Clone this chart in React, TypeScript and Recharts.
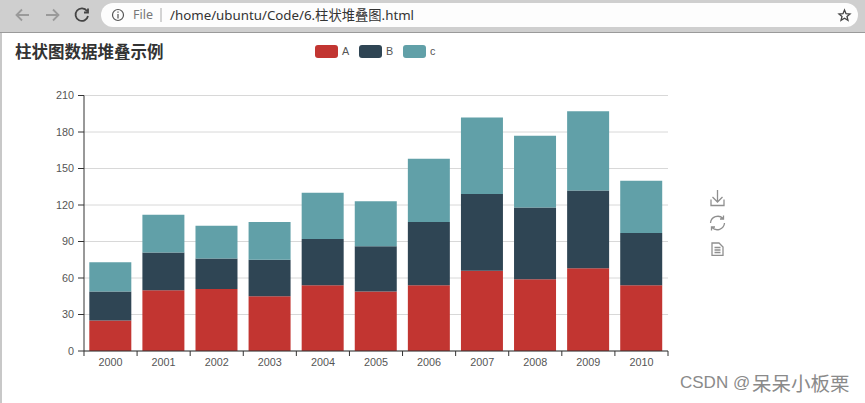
import React from 'react';
import { BarChart, Bar, XAxis, YAxis, CartesianGrid, Legend } from 'recharts';

const years = ['2000', '2001', '2002', '2003', '2004', '2005', '2006', '2007', '2008', '2009', '2010'];
const seriesA = [25, 50, 51, 45, 54, 49, 54, 66, 59, 68, 54];
const seriesB = [24, 31, 25, 30, 38, 37, 52, 63, 59, 64, 43];
const seriesC = [24, 31, 27, 31, 38, 37, 52, 63, 59, 65, 43];
const yTicks = [0, 30, 60, 90, 120, 150, 180, 210];

const RED = '#c23531';
const NAVY = '#2f4554';
const TEAL = '#61a0a8';
const FONT = '"Liberation Sans", Arial, sans-serif';
const BAND = 53.1;

const data = years.map((year, i) => ({ year, A: seriesA[i], B: seriesB[i], c: seriesC[i] }));

const YearTick = ({ x, y, payload, index }: any) => (
  <g>
    <line x1={x - BAND / 2} x2={x - BAND / 2} y1={y - 8} y2={y - 3} stroke="#333" />
    {index === years.length - 1 && <line x1={x + BAND / 2} x2={x + BAND / 2} y1={y - 8} y2={y - 3} stroke="#333" />}
    <text x={x} y={y + 7} textAnchor="middle" fontSize={10.8} fill="#555" fontFamily={FONT}>{payload.value}</text>
  </g>
);

const LegendRow = ({ payload }: any) => (
  <div style={{ display: 'flex', fontFamily: FONT, fontSize: 10.8, color: '#555' }}>
    {payload.map((p: any) => (
      <div key={p.value} style={{ display: 'flex', alignItems: 'center', width: 44 }}>
        <span style={{ width: 23, height: 13, borderRadius: 3, background: p.color, marginRight: 4 }} />
        <span style={{ marginTop: -2 }}>{p.value}</span>
      </div>
    ))}
  </div>
);

const BrowserBar = () => (
  <div style={{ position: 'absolute', left: 0, top: 0, width: 865, height: 33, background: '#cfcfcf', borderBottom: '1px solid #9a9a9a', boxSizing: 'border-box' }}>
    <div style={{ position: 'absolute', left: 101, top: 3, width: 757, height: 24, borderRadius: 12, background: '#fdfdfd' }} />
    <svg width={865} height={33} style={{ position: 'absolute', left: 0, top: 0 }} fill="none">
      <path d="M29 15H17M22 9.5L16.500 15L22 20.500" stroke="#9a9a9a" strokeWidth={1.800} />
      <path d="M46 15H58M53 9.500L58.500 15L53 20.500" stroke="#9a9a9a" strokeWidth={1.800} />
      <path d="M87 11A6.300 6.300 0 1 0 88 16M88 8.500V12.500H84" stroke="#444" strokeWidth={1.800} />
      <circle cx={118} cy={15} r={5.500} stroke="#555" strokeWidth={1.200} />
      <path d="M118 14V18.500M118 11.500V12.700" stroke="#555" strokeWidth={1.200} />
      <path d="M161 8V22" stroke="#aaa" />
      <path d="M844.500 10L846 13.700L850 14L847 16.500L848 20.300L844.500 18.300L841 20.300L842 16.500L839 14L843 13.700Z" stroke="#444" strokeWidth={1.300} />
    </svg>
    <span style={{ position: 'absolute', left: 133, top: 7, fontFamily: '"Noto Sans", sans-serif', fontSize: 12.500, color: '#777', lineHeight: '16px' }}>File</span>
    <span style={{ position: 'absolute', left: 170, top: 7, fontFamily: '"Noto Sans", "Noto Sans CJK SC", sans-serif', fontSize: 13.300, color: '#333', lineHeight: '16px', whiteSpace: 'nowrap' }}>/home/ubuntu/Code/6.柱状堆叠图.html</span>
  </div>
);

const ToolIcons = () => (
  <svg width={30} height={70} style={{ position: 'absolute', left: 704, top: 186 }} fill="none" stroke="#8f8f8f" strokeWidth={1.300}>
    <path d="M13.500 4V16M8.500 11L13.500 16L18.500 11M7 13.500V19.500H20V13.500" />
    <path d="M6.500 37A7.300 7.300 0 0 1 19 32.500M20.500 37A7.300 7.300 0 0 1 8 41.500M19.500 29.500V33H16M7.500 44.500V41H11" />
    <path d="M8 57H15L19 61V69.500H8ZM10.500 61.500H16.500M10.500 64H16.500M10.500 66.500H16.500" />
  </svg>
);

export default function App() {
  return (
    <div style={{ position: 'absolute', left: 0, top: 0, width: 865, height: 403, background: '#fff', overflow: 'hidden' }}>
      <div style={{ position: 'absolute', left: 0, top: 0, width: 2, height: 403, background: '#c8c8c8' }} />
      <BrowserBar />
      <div style={{ position: 'absolute', left: 15, top: 40, fontFamily: '"Noto Sans CJK SC", sans-serif', fontWeight: 700, fontSize: 16.500, lineHeight: '22px', color: '#333' }}>
        柱状图数据堆叠示例
      </div>
      <BarChart
        width={865}
        height={403}
        data={data}
        barCategoryGap="10%"
        margin={{ top: 82.5, right: 197, bottom: 22, left: 0 }}
        style={{ position: 'absolute', left: 0, top: 0 }}
      >
        <CartesianGrid vertical={false} stroke="#d8d8d8" />
        <XAxis dataKey="year" interval={0} height={30} tickLine={false} tick={<YearTick />} axisLine={{ stroke: '#333' }} />
        <YAxis
          width={84}
          domain={[0, 210]}
          ticks={yTicks}
          interval={0}
          tickMargin={4}
          axisLine={{ stroke: '#333' }}
          tickLine={{ stroke: '#333' }}
          tick={{ fontSize: 10.8, fill: '#555', fontFamily: FONT }}
        />
        <Legend
          verticalAlign="top"
          content={<LegendRow />}
          wrapperStyle={{ position: 'absolute', left: 315, top: 45, width: 140 }}
        />
        <Bar dataKey="A" stackId="one" fill={RED} isAnimationActive={false} />
        <Bar dataKey="B" stackId="one" fill={NAVY} isAnimationActive={false} />
        <Bar dataKey="c" stackId="one" fill={TEAL} isAnimationActive={false} />
      </BarChart>
      <ToolIcons />
      <div style={{ position: 'absolute', left: 680, top: 373, fontFamily: FONT, fontSize: 17, lineHeight: '20px', color: '#8a8a8a', whiteSpace: 'nowrap' }}>
        CSDN @<span style={{ position: 'absolute', left: 72, top: 0, fontSize: 19.5, fontFamily: '"Noto Sans CJK SC", sans-serif' }}>呆呆小板栗</span>
      </div>
    </div>
  );
}
